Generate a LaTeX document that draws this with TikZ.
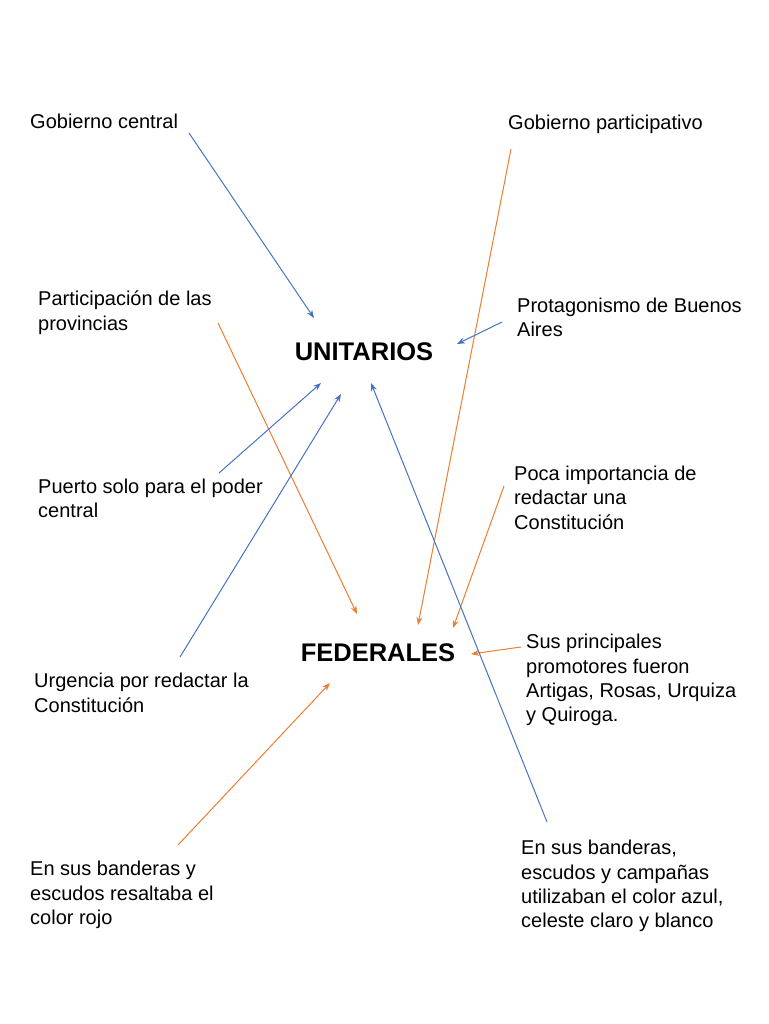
\documentclass[tikz,border=0pt]{standalone}
\usepackage{fontspec}
\setmainfont{Liberation Sans}
\usetikzlibrary{arrows.meta}
\definecolor{cblue}{HTML}{4472C4}
\definecolor{corange}{HTML}{ED7D31}
\begin{document}
\begin{tikzpicture}[x=1pt,y=-1pt,
  lbl/.style={anchor=north west,align=left,inner sep=0pt,font=\fontsize{20}{24.3}\selectfont},
  ttl/.style={inner sep=0pt,font=\fontsize{25.5}{30}\selectfont\bfseries},
  bl/.style={draw=cblue,line width=1pt,-{Stealth[length=8pt,width=6pt]}},
  orr/.style={draw=corange,line width=1pt,-{Stealth[length=8pt,width=6pt]}}]
\useasboundingbox (0,0) rectangle (768,1024);
\node[lbl] (gc) at (30,114) {Gobierno central};
\node[lbl] (gp) at (508,115) {Gobierno participativo};
\node[lbl] (pp) at (38,291) {Participación de las\\provincias};
\node[lbl] (pb) at (517,298) {Protagonismo de Buenos\\Aires};
\node[ttl] (U) at (364,352) {UNITARIOS};
\node[lbl] (ps) at (38,479) {Puerto solo para el poder\\central};
\node[lbl] (pi) at (514,466) {Poca importancia de\\redactar una\\Constitución};
\node[ttl] (F) at (378,653) {FEDERALES};
\node[lbl] (sp) at (526,634) {Sus principales\\promotores fueron\\Artigas, Rosas, Urquiza\\y Quiroga.};
\node[lbl] (ur) at (34,673) {Urgencia por redactar la\\Constitución};
\node[lbl] (br) at (30,861) {En sus banderas y\\escudos resaltaba el\\color rojo};
\node[lbl] (bz) at (521,840) {En sus banderas,\\escudos y campañas\\utilizaban el color azul,\\celeste claro y blanco};
\coordinate (a1) at (189,133); \coordinate (b1) at (314,318);
\coordinate (a2) at (511,149); \coordinate (b2) at (418,625);
\coordinate (a3) at (502,322); \coordinate (b3) at (457,344);
\coordinate (a4) at (218,323); \coordinate (b4) at (357,614);
\coordinate (a5) at (219,473); \coordinate (b5) at (321,383);
\coordinate (a6) at (180,657); \coordinate (b6) at (341,394);
\coordinate (a7) at (504,486); \coordinate (b7) at (453,628);
\coordinate (a8) at (521,647); \coordinate (b8) at (471,654);
\coordinate (a9) at (547,822); \coordinate (b9) at (371,383);
\coordinate (a10) at (178,845); \coordinate (b10) at (330,683);
\draw[bl] (a1) -- (b1);
\draw[orr] (a2) -- (b2);
\draw[bl] (a3) -- (b3);
\draw[orr] (a4) -- (b4);
\draw[bl] (a5) -- (b5);
\draw[bl] (a6) -- (b6);
\draw[orr] (a7) -- (b7);
\draw[orr] (a8) -- (b8);
\draw[bl] (a9) -- (b9);
\draw[orr] (a10) -- (b10);
\end{tikzpicture}
\end{document}
